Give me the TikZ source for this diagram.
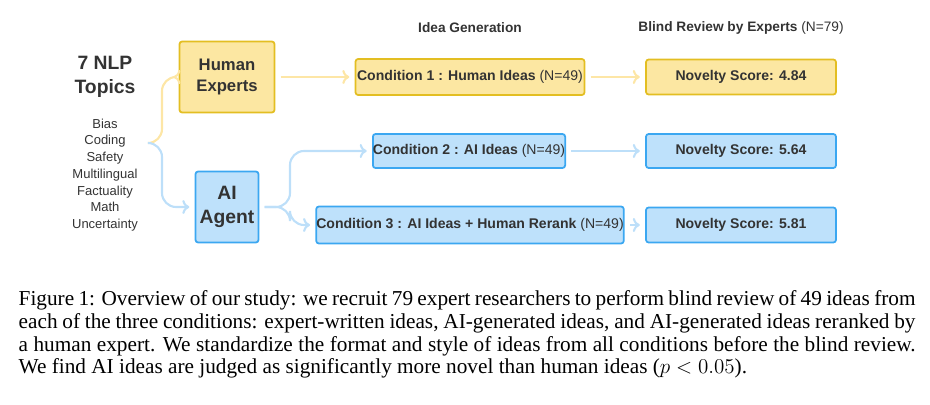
\documentclass[tikz,border=0pt]{standalone}
\usepackage{fontspec}
\setmainfont{Liberation Serif}
\setsansfont{Liberation Sans}
\usetikzlibrary{positioning,arrows.meta}
\definecolor{yelfill}{HTML}{FCE7A2}
\definecolor{yeldraw}{HTML}{E3BE22}
\definecolor{yelline}{HTML}{FDE6A6}
\definecolor{blufill}{HTML}{BEE1FB}
\definecolor{bludraw}{HTML}{3BA7F1}
\definecolor{bluline}{HTML}{BDDFF9}
\definecolor{txt}{HTML}{333333}

\begin{document}
\begin{tikzpicture}[x=0.02cm,y=-0.02cm,thick,
    box/.style={draw,rounded corners=1.5pt,line width=1pt,inner sep=0pt,
                font=\sffamily\bfseries\fontsize{8}{9.5}\selectfont,text=txt,align=center},
    human/.style={box,fill=yelfill,draw=yeldraw},
    agent/.style={box,fill=blufill,draw=bludraw},
    yarrow/.style={draw=yelline,line width=1.2pt,-{To[length=4pt,width=8pt]},rounded corners=8pt},
    barrow/.style={draw=bluline,line width=1.2pt,-{To[length=4pt,width=8pt]},rounded corners=8pt},
    head/.style={font=\sffamily\bfseries\fontsize{7.8}{9}\selectfont,text=txt}]
  \useasboundingbox (0,0) rectangle (930,405);

  % header row
  \node[head] (gen) at (470,28) {Idea Generation};
  \node[head] (rev) at (741,28) {Blind Review by Experts \textmd{(N=79)}};

  % topics
  \node[font=\sffamily\bfseries\fontsize{11}{13.5}\selectfont,text=txt,align=center] (topics) at (105,77) {7 NLP\\Topics};
  \node[font=\sffamily\fontsize{7.4}{9.5}\selectfont,text=txt,align=center] (list) at (105,175)
    {Bias\\Coding\\Safety\\Multilingual\\Factuality\\Math\\Uncertainty};
  \coordinate (split) at (148,143);

  % sources
  \node[human,minimum width=1.9cm,minimum height=1.42cm,font=\sffamily\bfseries\fontsize{9.5}{12}\selectfont] (hum) at (227,77) {Human\\Experts};
  \node[agent,minimum width=1.26cm,minimum height=1.42cm,font=\sffamily\bfseries\fontsize{11}{14}\selectfont] (ai) at (227,207) {AI\\Agent};

  % conditions
  \node[human,minimum width=4.58cm,minimum height=0.72cm] (c1) at (470,77) {Condition 1 : Human Ideas \textmd{(N=49)}};
  \node[agent,minimum width=3.8cm,minimum height=0.68cm] (c2) at (469,151) {Condition 2 : AI Ideas \textmd{(N=49)}};
  \node[agent,minimum width=5.5cm,minimum height=0.74cm] (c3) at (470,225) {Condition 3 : AI Ideas + Human Rerank \textmd{(N=49)}};

  % scores
  \node[human,minimum width=3.8cm,minimum height=0.7cm] (s1) at (741,77) {Novelty Score: 4.84};
  \node[agent,minimum width=3.8cm,minimum height=0.68cm] (s2) at (741,151) {Novelty Score: 5.64};
  \node[agent,minimum width=3.8cm,minimum height=0.7cm] (s3) at (741,225) {Novelty Score: 5.81};

  % connectors
  \draw[yarrow] (split) -- (162,143) -- (162,77) -- ([xshift=-3pt]hum.west);
  \draw[barrow] (split) -- (162,143) -- (162,207) -- ([xshift=-3pt]ai.west);
  \draw[yarrow] ([xshift=3pt]hum.east) -- ([xshift=-3pt]c1.west);
  \draw[barrow] ([xshift=3pt]ai.east) -- (290,207) -- (290,151) -- ([xshift=-3pt]c2.west);
  \draw[barrow] ([xshift=3pt]ai.east) -- (290,207) -- (290,225) -- ([xshift=-3pt]c3.west);
  \draw[yarrow] ([xshift=3pt]c1.east) -- ([xshift=-3pt]s1.west);
  \draw[barrow] ([xshift=3pt]c2.east) -- ([xshift=-3pt]s2.west);
  \draw[barrow] ([xshift=3pt]c3.east) -- ([xshift=-3pt]s3.west);

  % caption
  \node[anchor=north west,text width=17.94cm,align=justify,inner sep=0pt,
        font=\fontsize{12.1}{12.95}\selectfont] (cap) at (18,290)
    {Figure 1: Overview of our study: we recruit 79 expert researchers to perform blind review of 49 ideas from each of the three conditions: expert-written ideas, AI-generated ideas, and AI-generated ideas reranked by a human expert. We standardize the format and style of ideas from all conditions before the blind review. We find AI ideas are judged as significantly more novel than human ideas ($p<0.05$).};
\end{tikzpicture}
\end{document}
